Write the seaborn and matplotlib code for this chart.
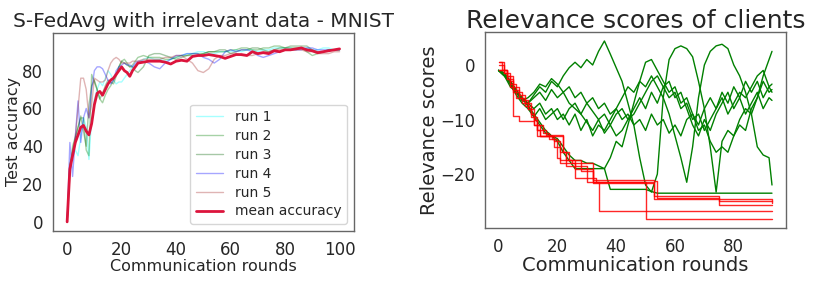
import matplotlib
matplotlib.use("Agg")
import matplotlib.pyplot as plt
import seaborn as sns

# ---- left panel: test accuracy per run ----
ACC_ROUNDS = list(range(0, 27)) + list(range(28, 101, 2))

RUN1 = [0, 30, 35, 38, 35, 45, 55, 50, 33, 55, 65, 70, 74, 72, 76, 80, 78, 75, 73, 74, 74, 76, 78, 80, 82, 83, 84,
        86, 87, 86, 86, 85, 86, 87, 88, 89, 89, 90, 90, 89, 89, 90, 90, 90, 91, 90, 91, 91, 90, 91, 91, 92, 92,
        92, 92, 91, 92, 92, 91, 91, 92, 92, 91, 91]
RUN2 = [0, 25, 40, 45, 50, 55, 55, 38, 35, 78, 74, 70, 65, 63, 67, 70, 72, 75, 78, 82, 85, 86, 84, 82, 83, 85, 87,
        88, 87, 87, 87, 86, 86, 87, 88, 88, 89, 89, 89, 90, 90, 90, 90, 91, 91, 92, 92, 91, 91, 92, 92, 93, 93,
        92, 92, 92, 92, 90, 88, 89, 90, 91, 91, 91]
RUN3 = [0, 30, 38, 44, 50, 56, 48, 40, 62, 72, 75, 70, 65, 68, 72, 75, 74, 73, 77, 82, 85, 84, 83, 82, 82, 80, 79,
        82, 88, 89, 89, 88, 87, 86, 87, 88, 88, 88, 89, 90, 90, 91, 91, 89, 90, 91, 91, 92, 92, 91, 90, 91, 92,
        92, 93, 93, 93, 93, 91, 90, 90, 91, 91, 91]
RUN4 = [0, 42, 24, 45, 64, 42, 55, 60, 55, 70, 80, 82, 82, 81, 78, 75, 73, 75, 80, 82, 83, 84, 83, 83, 82, 84, 85,
        85, 84, 82, 81, 84, 86, 88, 88, 89, 89, 89, 87, 86, 84, 86, 90, 91, 90, 91, 91, 90, 88, 87, 88, 89, 90,
        91, 91, 91, 91, 92, 92, 91, 91, 91, 91, 91]
RUN5 = [0, 30, 35, 45, 60, 76, 76, 70, 55, 62, 76, 75, 74, 74, 75, 80, 84, 86, 87, 86, 84, 84, 84, 84, 85, 85, 85,
        86, 86, 86, 86, 87, 87, 88, 88, 86, 84, 80, 79, 81, 86, 88, 88, 89, 89, 88, 88, 88, 89, 90, 90, 91, 91,
        91, 91, 91, 91, 90, 90, 89, 89, 89, 90, 90]
MEAN_ACC = [0, 28, 35, 42, 46, 50, 51, 48, 46, 52, 62, 68, 69, 67, 70, 73, 75, 76, 78, 80, 82, 80, 79, 77, 80, 82,
            84, 84.5, 85, 85, 85, 84.5, 83.5, 85, 85.5, 85, 87.5, 88, 88, 88.5, 88, 87.5, 86.5, 87.5, 88.5, 88.5,
            88, 90, 89, 89.5, 89, 90.5, 90, 91, 91, 91.5, 92, 91, 90.5, 89.5, 90, 90.5, 91, 91.5]

RUN_LABELS = ["run 1", "run 2", "run 3", "run 4", "run 5"]
RUN_COLORS = ["cyan", "green", "darkgreen", "blue", "brown"]

# ---- right panel: relevance scores ----
GREEN_ROUNDS = list(range(0, 93, 2)) + [93]

GREEN_SCORES = [
    [-1, -1.5, -3, -5, -6, -7.5, -9.5, -11, -12.5, -13, -14, -16, -17.5, -19, -19, -19, -19, -19, -19, -22.8,
     -22.8, -22.8, -22.8, -22.8, -22.8, -22.8, -23.2, -23.5, -23.5, -23.5, -23.5, -23.5, -23.5, -23.5, -23.5,
     -23.5, -23.5, -23.5, -23.5, -23.5, -23.5, -23.5, -23.5, -23.5, -23.5, -23.5, -23.5, -23.5],
    [-1, -2, -3.5, -5, -6, -7, -5.5, -4, -5, -3, -4, -2, -0.5, 0.5, -0.5, 1, 0, 2.5, 4.4, 2, -0.5, -3, -7, -11,
     -17, -22, -23.3, -20, -6, 1, 3, 3.5, 3, 1.5, -3, -8, -15, -23.3, -14, -12, -13, -10, -8, -9, -6, -3, -5, -4.5],
    [-1, -2, -3, -5, -6.5, -7, -8, -7, -9, -8, -10, -9, -11, -9, -12, -10, -13, -11, -12, -10, -8, -6, -4, -5,
     -3, -4, -2, -4, -6, -9, -13, -17, -21.5, -15, -6, 0, 2.5, 3.5, 3.8, 3, 0, -2, -5, -9, -15, -16.5, -17, -22],
    [-1, -1.5, -3, -4.5, -6, -7.5, -9, -10.5, -12, -13, -13.5, -15, -16.5, -17.5, -17.5, -18, -18, -18.5, -19,
     -17, -14, -15, -11, -7, -3, 0.5, 1, -1, -3, -5, -4, -7, -6, -9, -12, -11, -14, -16, -15, -16, -13, -11,
     -12, -8, -6, -2, 1, 2.5],
    [-1, -2, -3, -5, -6, -7, -6, -5, -6.5, -4.5, -6, -5, -7, -8, -9, -7, -8.5, -10, -9, -11, -9, -8, -10, -8,
     -6, -8, -5, -7, -4, -6, -5, -8, -7, -10, -9, -12, -10, -8, -6, -9, -7, -5, -6, -4, -2, -1, -4, -3.5],
    [-1, -1.5, -3.5, -5.5, -7, -8, -9.5, -8, -10, -9, -8, -10, -8, -7, -9, -10.5, -12, -10, -12.5, -11, -13,
     -12, -10, -9, -7, -5, -3, -2, -4, -3, -6, -5, -8, -11, -13, -10, -12, -9, -7, -5, -8, -6, -9, -7, -5, -8,
     -6, -6.5],
    [-1, -2, -4, -5, -6.5, -6, -5, -3.5, -4, -2.5, -3.5, -5, -4, -6, -5, -7, -6, -8, -7, -9, -8, -10, -9, -11,
     -10, -12, -9, -11, -10, -12.5, -11, -13, -10, -9, -11, -8, -6, -8, -5, -7, -4, -6, -3, -5, -3, -6, -4, -5],
]

# red clients: rounds where the score changes, and the new score
RED_ROUNDS = [
    [0, 1, 2, 3, 4, 5, 6, 8, 10, 11, 12, 13, 14, 18, 19, 20, 21, 25, 26, 31, 32, 34, 93],
    [0, 2, 3, 4, 5, 7, 10, 12, 13, 16, 18, 20, 21, 25, 26, 33, 50, 93],
    [0, 1, 2, 4, 6, 8, 10, 12, 13, 15, 17, 19, 21, 23, 29, 30, 52, 53, 74, 75, 93],
    [0, 1, 3, 5, 7, 9, 11, 13, 16, 20, 22, 24, 25, 31, 32, 53, 54, 74, 75, 93],
    [0, 2, 3, 5, 7, 9, 11, 12, 14, 21, 22, 23, 27, 28, 31, 32, 52, 53, 93],
]
RED_SCORES = [
    [0.5, 0.5, -1, -2, -3, -5, -6, -7, -8, -9, -10, -12, -13, -13, -15, -17, -18, -18, -19, -19, -21.4, -26.7, -26.7],
    [-1, -1.5, -2.5, -4, -9.3, -10.2, -10.2, -11, -13, -13, -13.5, -15, -17.5, -17.5, -20.8, -21.4, -28.2, -28.2],
    [0.5, 0, -1.5, -3.5, -5, -6.5, -8, -10, -11, -12.5, -13.5, -14, -16, -18.5, -18.5, -21.4, -21.4, -24, -24,
     -24.9, -24.9],
    [0, -1, -2, -4.5, -6, -7.5, -9.5, -12, -12.8, -12.8, -16, -17.5, -18, -18, -21, -21.2, -24.3, -24.3, -25.6,
     -25.6],
    [-1, -1, -2.5, -4, -5.5, -7, -9, -11, -13, -13, -16, -17.5, -17.5, -19.5, -19.5, -21.6, -21.6, -24.5, -25.3],
]


def style_axes(ax):
    for spine in ax.spines.values():
        spine.set_visible(True)
        spine.set_color("#666666")
        spine.set_linewidth(1.0)
    ax.tick_params(direction="out", length=4, width=1, color="#666666", pad=3)


def main() -> None:
    sns.set_theme(style="white")
    plt.rcParams["font.family"] = ["DejaVu Sans"]
    plt.rcParams["axes.unicode_minus"] = True

    fig = plt.figure(figsize=(8.15, 2.83), dpi=100)
    ax1 = fig.add_axes([0.065, 0.184, 0.369, 0.700])
    ax2 = fig.add_axes([0.595, 0.194, 0.369, 0.693])

    # left
    for label, color, values in zip(RUN_LABELS, RUN_COLORS, [RUN1, RUN2, RUN3, RUN4, RUN5]):
        sns.lineplot(x=ACC_ROUNDS, y=values, ax=ax1, color=color, alpha=0.35, lw=1.0,
                     label=label, errorbar=None)
    sns.lineplot(x=ACC_ROUNDS, y=MEAN_ACC, ax=ax1, color="crimson", lw=2.0,
                 label="mean accuracy", errorbar=None)
    ax1.set_xlim(-5.2, 105.2)
    ax1.set_ylim(-4.8, 100)
    ax1.set_xticks([0, 20, 40, 60, 80, 100])
    ax1.set_yticks([0, 20, 40, 60, 80])
    ax1.tick_params(labelsize=12)
    ax1.set_title("S-FedAvg with irrelevant data - MNIST", fontsize=14.5, pad=4)
    ax1.set_xlabel("Communication rounds", fontsize=11.5, labelpad=0)
    ax1.set_ylabel("Test accuracy", fontsize=11.5, labelpad=1)
    ax1.legend(loc="lower right", fontsize=10, frameon=True, edgecolor="#cccccc",
               handlelength=2.0, labelspacing=0.35, borderpad=0.4)
    style_axes(ax1)

    # right
    for values in GREEN_SCORES:
        sns.lineplot(x=GREEN_ROUNDS, y=values, ax=ax2, color="green", lw=1.0, errorbar=None)
    for rounds, values in zip(RED_ROUNDS, RED_SCORES):
        sns.lineplot(x=rounds, y=values, ax=ax2, color="red", lw=1.0, alpha=0.85,
                     drawstyle="steps-post", errorbar=None)
    ax2.set_xlim(-4.65, 97.65)
    ax2.set_ylim(-29.9, 6.05)
    ax2.set_xticks([0, 20, 40, 60, 80])
    ax2.set_yticks([-20, -10, 0])
    ax2.tick_params(labelsize=12)
    ax2.set_title("Relevance scores of clients", fontsize=18, pad=3)
    ax2.set_xlabel("Communication rounds", fontsize=14, labelpad=0)
    ax2.set_ylabel("Relevance scores", fontsize=14, labelpad=1)
    style_axes(ax2)

    fig.savefig("out.png", dpi=100, facecolor="white")
    plt.close(fig)


if __name__ == "__main__":
    main()
